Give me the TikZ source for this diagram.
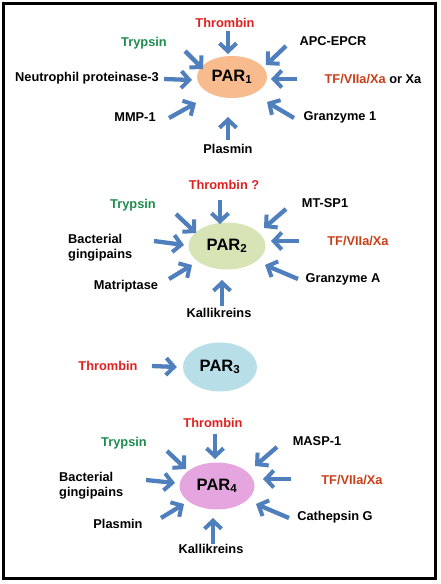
\documentclass[tikz,border=0pt]{standalone}
\usepackage{fontspec}
\setmainfont{Liberation Sans}
\usetikzlibrary{arrows.meta,shapes.geometric}
\definecolor{arrowblue}{HTML}{4F7FBC}
\definecolor{tgreen}{HTML}{1E8C4E}
\definecolor{tred}{HTML}{E0201E}
\definecolor{torange}{HTML}{C8401A}
\definecolor{par1c}{HTML}{F7BB8E}
\definecolor{par2c}{HTML}{D7E4B6}
\definecolor{par3c}{HTML}{B8DEE8}
\definecolor{par4c}{HTML}{E5A6E0}
\tikzset{
  lbl/.style={font=\bfseries\fontsize{12.8}{15}\selectfont, inner sep=1pt},
  lblg/.style={lbl, text=tgreen},
  lblr/.style={lbl, text=tred},
  lblo/.style={lbl, text=torange},
  parnode/.style={ellipse, minimum width=72pt, minimum height=44pt, inner sep=0pt,
    font=\bfseries\fontsize{16.5}{18}\selectfont},
  inarrow/.style={draw=arrowblue, line width=4.3pt,
    -{Straight Barb[length=8pt,width=17pt,line width=4pt]}},
}
\begin{document}
\begin{tikzpicture}[x=1pt,y=-1pt]
\useasboundingbox (0,0) rectangle (440,584);
\draw[line width=3pt] (3.5,3.5) rectangle (435.5,578.5);

% ---------- PAR1 ----------
\node[parnode, fill=par1c, minimum width=70pt, minimum height=42pt] (p1) at (232,77) {PAR\textsubscript{1}};
\node[lblr] (p1t) at (225,23) {Thrombin};
\node[lblg] (p1tr) at (144,43) {Trypsin};
\node[lbl] (p1apc) at (333,41) {APC-EPCR};
\node[lbl] (p1np) at (87,78) {Neutrophil proteinase-3};
\node[lbl] (p1tf) at (373,79) {\textcolor{torange}{TF/VIIa/Xa} or Xa};
\node[lbl] (p1mmp) at (135,117) {MMP-1};
\node[lbl] (p1gz) at (340,117) {Granzyme 1};
\node[lbl] (p1pl) at (228,149) {Plasmin};
\coordinate (a1s) at (228,31); \coordinate (a1e) at (228,54);
\coordinate (b1s) at (185,51); \coordinate (b1e) at (203,69);
\coordinate (c1s) at (286,46); \coordinate (c1e) at (266,65);
\coordinate (d1s) at (164,79); \coordinate (d1e) at (192,80);
\coordinate (e1s) at (297,79); \coordinate (e1e) at (271,79);
\coordinate (f1s) at (169,118); \coordinate (f1e) at (196,103);
\coordinate (g1s) at (294,118); \coordinate (g1e) at (267,102);
\coordinate (h1s) at (228,140); \coordinate (h1e) at (228,117);
\foreach \s/\e in {a1s/a1e,b1s/b1e,c1s/c1e,d1s/d1e,e1s/e1e,f1s/f1e,g1s/g1e,h1s/h1e}
  \draw[inarrow] (\s) -- (\e);

% ---------- PAR2 ----------
\node[parnode, fill=par2c, minimum width=77pt, minimum height=47pt] (p2) at (227,246) {PAR\textsubscript{2}};
\node[lblr] (p2t) at (224,185) {Thrombin ?};
\node[lblg] (p2tr) at (133,205) {Trypsin};
\node[lbl] (p2mt) at (325,203) {MT-SP1};
\node[lbl, align=left, anchor=west] (p2bg) at (67,248) {Bacterial\\gingipains};
\node[lblo] (p2tf) at (358,241) {TF/VIIa/Xa};
\node[lbl] (p2mat) at (126,286) {Matriptase};
\node[lbl] (p2gz) at (343,279) {Granzyme A};
\node[lbl] (p2ka) at (219,313) {Kallikreins};
\coordinate (a2s) at (220,200); \coordinate (a2e) at (220,224);
\coordinate (b2s) at (176,214); \coordinate (b2e) at (196,233);
\coordinate (c2s) at (286,209); \coordinate (c2e) at (264,228);
\coordinate (d2s) at (154,241); \coordinate (d2e) at (184,245);
\coordinate (e2s) at (299,241); \coordinate (e2e) at (271,241);
\coordinate (f2s) at (169,279); \coordinate (f2e) at (192,265);
\coordinate (g2s) at (298,279); \coordinate (g2e) at (265,265);
\coordinate (h2s) at (222,306); \coordinate (h2e) at (222,280);
\foreach \s/\e in {a2s/a2e,b2s/b2e,c2s/c2e,d2s/d2e,e2s/e2e,f2s/f2e,g2s/g2e,h2s/h2e}
  \draw[inarrow] (\s) -- (\e);

% ---------- PAR3 ----------
\node[parnode, fill=par3c, minimum width=74pt, minimum height=49pt] (p3) at (220,367) {PAR\textsubscript{3}};
\node[lblr] (p3t) at (108,366) {Thrombin};
\draw[inarrow] (152,366) -- ([xshift=-6pt]p3.west);

% ---------- PAR4 ----------
\node[parnode, fill=par4c, minimum width=75pt, minimum height=47pt] (p4) at (217,486) {PAR\textsubscript{4}};
\node[lblr] (p4t) at (213,423) {Thrombin};
\node[lblg] (p4tr) at (124,443) {Trypsin};
\node[lbl] (p4ma) at (317,441) {MASP-1};
\node[lbl, align=left, anchor=west] (p4bg) at (58,486) {Bacterial\\gingipains};
\node[lblo] (p4tf) at (352,480) {TF/VIIa/Xa};
\node[lbl] (p4pl) at (118,524) {Plasmin};
\node[lbl] (p4ca) at (335,517) {Cathepsin G};
\node[lbl] (p4ka) at (211,549) {Kallikreins};
\coordinate (a4s) at (215,434); \coordinate (a4e) at (215,459);
\coordinate (b4s) at (167,451); \coordinate (b4e) at (186,469);
\coordinate (c4s) at (277,447); \coordinate (c4e) at (255,466);
\coordinate (d4s) at (146,480); \coordinate (d4e) at (175,483);
\coordinate (e4s) at (291,479); \coordinate (e4e) at (263,479);
\coordinate (f4s) at (161,518); \coordinate (f4e) at (184,504);
\coordinate (g4s) at (289,518); \coordinate (g4e) at (256,504);
\coordinate (h4s) at (213,544); \coordinate (h4e) at (213,518);
\foreach \s/\e in {a4s/a4e,b4s/b4e,c4s/c4e,d4s/d4e,e4s/e4e,f4s/f4e,g4s/g4e,h4s/h4e}
  \draw[inarrow] (\s) -- (\e);
\end{tikzpicture}
\end{document}
